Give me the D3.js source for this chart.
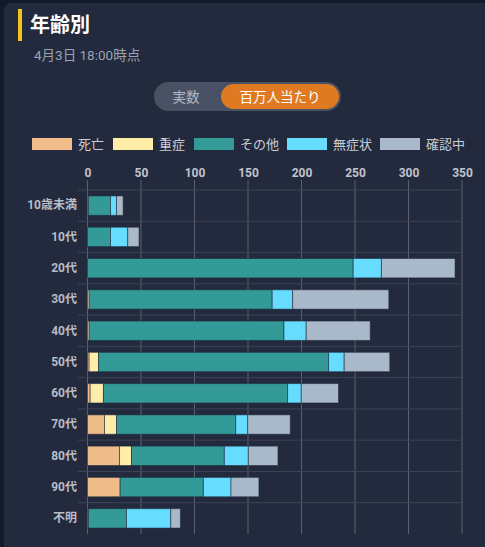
<!DOCTYPE html>
<html>
<head>
<meta charset="utf-8">
<script src="https://cdn.jsdelivr.net/npm/d3@7"></script>
<style>
  html, body { margin: 0; padding: 0; background: #0f1b2a; }
  body { width: 485px; height: 547px; overflow: hidden; font-family: Roboto, "Noto Sans CJK JP", sans-serif; }
  #card { position: absolute; left: 4px; top: 3px; width: 490px; height: 560px; background: #232a3d; border-radius: 7px; }
</style>
</head>
<body>
<div id="card"></div>
<svg id="chart" width="485" height="547" style="position:absolute;left:0;top:0"></svg>
<script>
// chart values (per million people)
var ageGroups = ["10歳未満", "10代", "20代", "30代", "40代", "50代", "60代", "70代", "80代", "90代", "不明"];
var seriesNames = ["死亡", "重症", "その他", "無症状", "確認中"];
var seriesColors = ["#efbc8a", "#ffeda8", "#339a97", "#66dcff", "#a9b9ca"];

var deaths      = [0,   0,   0,    0,   0,   1.5, 2.5, 15.9, 29.9, 30.5, 0.8];
var severe      = [0.8, 0,   0,    1.5, 1.5, 8.8, 12.4, 11.2, 11.2, 0,   0];
var others      = [20.7, 21.5, 248.3, 171.1, 182.1, 215, 172.1, 111.4, 86.8, 77.8, 35.6];
var asymptomatic = [5.6, 16.1, 26.4, 19.1, 20.8, 14.6, 12.8, 11.2, 22.4, 25.8, 41.4];
var checking    = [6.2, 10.6, 68.8, 89.9, 59.8, 42.6, 34.8, 39.8, 27.7, 26.1, 9.0];

var xTicks = [0, 50, 100, 150, 200, 250, 300, 350];
var toggleLabels = ["実数", "百万人当たり"];
var title = "年齢別";
var subtitle = "4月3日 18:00時点";

var svg = d3.select("#chart");

// header
svg.append("rect").attr("x", 18).attr("y", 9).attr("width", 4).attr("height", 32).attr("fill", "#f2c419");
svg.append("text").attr("x", 30).attr("y", 32)
  .attr("fill", "#ffffff").attr("font-size", 20).attr("font-weight", "bold")
  .attr("font-family", "'Noto Sans CJK JP', sans-serif")
  .text(title);
svg.append("text").attr("x", 34).attr("y", 60)
  .attr("fill", "#9aa2b3").attr("font-size", 13.5)
  .text(subtitle);

// toggle
var toggle = svg.append("g");
toggle.append("rect").attr("x", 154).attr("y", 82).attr("width", 187).attr("height", 29).attr("rx", 14.5)
  .attr("fill", "#495264");
toggle.append("rect").attr("x", 221).attr("y", 84).attr("width", 118).attr("height", 25).attr("rx", 12.5)
  .attr("fill", "#e07a22");
toggle.append("text").attr("x", 186).attr("y", 102).attr("text-anchor", "middle")
  .attr("fill", "#b2b8c4").attr("font-size", 13.5).attr("font-family", "'Noto Sans CJK JP', sans-serif")
  .text(toggleLabels[0]);
toggle.append("text").attr("x", 280).attr("y", 102).attr("text-anchor", "middle")
  .attr("fill", "#ffffff").attr("font-size", 13.5).attr("font-family", "'Noto Sans CJK JP', sans-serif")
  .text(toggleLabels[1]);

// legend
var legendX = [32, 113, 194, 287, 380];
var legend = svg.append("g").selectAll("g").data(seriesNames).enter().append("g")
  .attr("transform", (d, i) => `translate(${legendX[i]}, 138)`);
legend.append("rect").attr("width", 40).attr("height", 12)
  .attr("fill", (d, i) => seriesColors[i]);
legend.append("text").attr("x", 46).attr("y", 10.5)
  .attr("fill", "#c9cdd5").attr("font-size", 13).attr("font-family", "'Noto Sans CJK JP', sans-serif")
  .text(d => d);

// scales
var xScale = d3.scaleLinear().domain([0, 350]).range([87.5, 462]);
var yScale = d3.scaleBand().domain(ageGroups).range([190, 534]).paddingInner(0.38).paddingOuter(0.19);
var step = yScale.step();

// grid
var grid = svg.append("g");
grid.selectAll("line.v").data(xTicks).enter().append("line")
  .attr("x1", d => xScale(d)).attr("x2", d => xScale(d))
  .attr("y1", 180).attr("y2", 534)
  .attr("stroke", "#5a6073").attr("stroke-width", 1);
grid.selectAll("line.h").data(ageGroups).enter().append("line")
  .attr("x1", 78).attr("x2", 462)
  .attr("y1", d => yScale(d) - (step - yScale.bandwidth()) / 2)
  .attr("y2", d => yScale(d) - (step - yScale.bandwidth()) / 2)
  .attr("stroke", "#3d4457").attr("stroke-width", 1);

// x axis on top
var xAxis = d3.axisTop(xScale).tickValues(xTicks).tickSize(0).tickPadding(0);
var xg = svg.append("g").attr("transform", "translate(0, 177)").call(xAxis);
xg.select(".domain").remove();
xg.selectAll("text").attr("fill", "#c0c4cc").attr("font-size", 12).attr("font-weight", "bold")
  .attr("font-family", "Roboto, sans-serif");

// y axis labels
var yAxis = d3.axisLeft(yScale).tickSize(0).tickPadding(0);
var yg = svg.append("g").attr("transform", "translate(77, 0)").call(yAxis);
yg.select(".domain").remove();
yg.selectAll("text").attr("fill", "#b8bcc6").attr("font-size", 12).attr("font-weight", "bold")
  .attr("font-family", "Roboto, 'Noto Sans CJK JP', sans-serif");

// stacked bars
var table = ageGroups.map(function(g, i) {
  return { group: g, "死亡": deaths[i], "重症": severe[i], "その他": others[i], "無症状": asymptomatic[i], "確認中": checking[i] };
});
var stacked = d3.stack().keys(seriesNames)(table);

var layers = svg.append("g").selectAll("g").data(stacked).enter().append("g")
  .attr("fill", (d, i) => seriesColors[i]);
layers.selectAll("rect").data(d => d.filter(p => p[1] > p[0])).enter().append("rect")
  .attr("x", d => xScale(d[0]))
  .attr("width", d => xScale(d[1]) - xScale(d[0]))
  .attr("y", d => yScale(d.data.group))
  .attr("height", yScale.bandwidth())
  .attr("stroke", "rgba(30, 40, 58, 0.55)")
  .attr("stroke-width", 1);
</script>
</body>
</html>
